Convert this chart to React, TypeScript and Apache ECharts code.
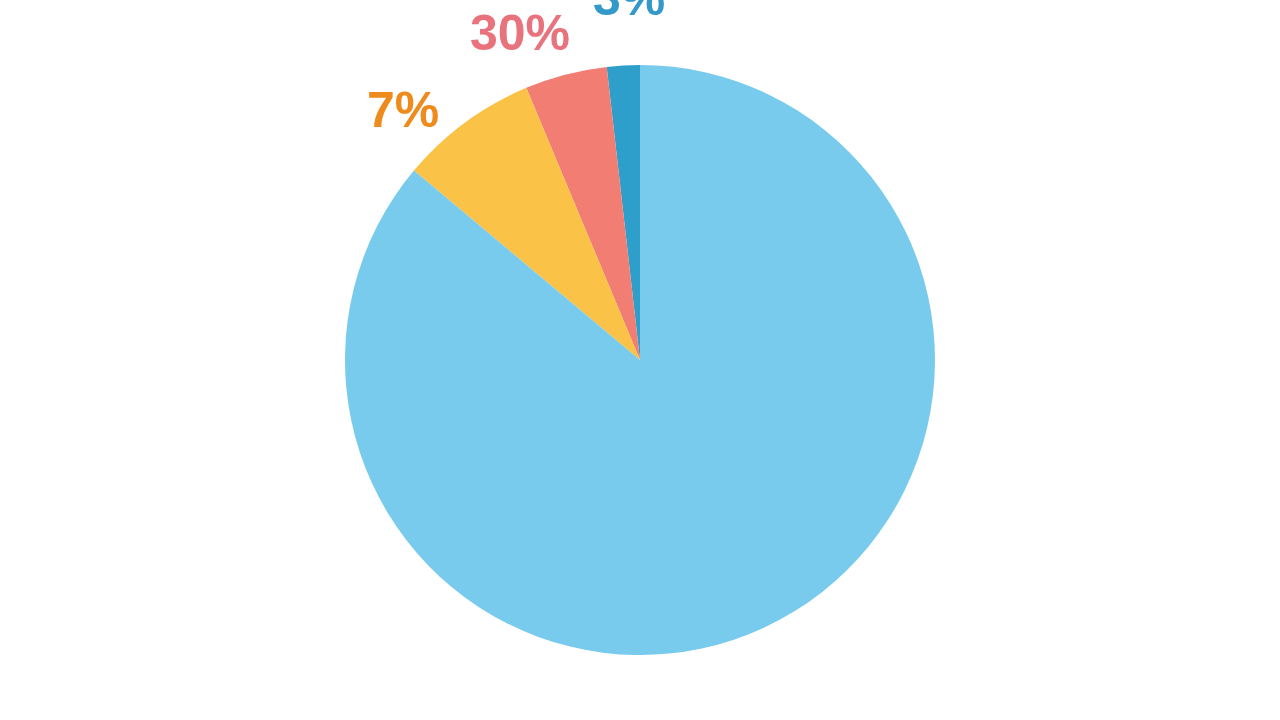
import React, { useEffect, useRef } from "react";
import * as echarts from "echarts";

const categories = ["A", "B", "C", "D"];
const values = [1.8, 4.5, 7.6, 86.1];
const labelTexts = ["3%", "30%", "7%", ""];
const sliceColors = ["#2E9ECB", "#F27D72", "#FAC247", "#78CBED"];
const labelColors = ["#3399C9", "#E8737C", "#EE8B1C", "#78CBED"];

// label centres (text placement only)
const labelPos: [number, number][] = [
  [629, -2],
  [520, 33],
  [403, 110],
  [0, 0],
];

export default function App() {
  const ref = useRef<HTMLDivElement>(null);
  useEffect(() => {
    document.body.style.margin = "0";
    const chart = echarts.init(ref.current!, undefined, { renderer: "svg" });
    chart.setOption({
      animation: false,
      backgroundColor: "#ffffff",
      series: [
        {
          type: "pie",
          center: [640, 360],
          radius: [0, 295],
          startAngle: 90,
          clockwise: false,
          avoidLabelOverlap: false,
          labelLine: { show: false },
          label: {
            show: true,
            position: "outside",
            fontFamily: "Liberation Sans, Arial, sans-serif",
            fontWeight: "bold",
            fontSize: 50,
            formatter: (p: any) => labelTexts[p.dataIndex],
          },
          labelLayout: (p: any) => ({
            x: labelPos[p.dataIndex][0],
            y: labelPos[p.dataIndex][1],
            align: "center",
            verticalAlign: "middle",
          }),
          data: categories.map((c, i) => ({
            name: c,
            value: values[i],
            itemStyle: { color: sliceColors[i] },
            label: { color: labelColors[i], show: labelTexts[i] !== "" },
          })),
        },
      ],
    });
    return () => chart.dispose();
  }, []);
  return (
    <div
      ref={ref}
      style={{ position: "fixed", left: 0, top: 0, width: 1280, height: 720 }}
    />
  );
}
